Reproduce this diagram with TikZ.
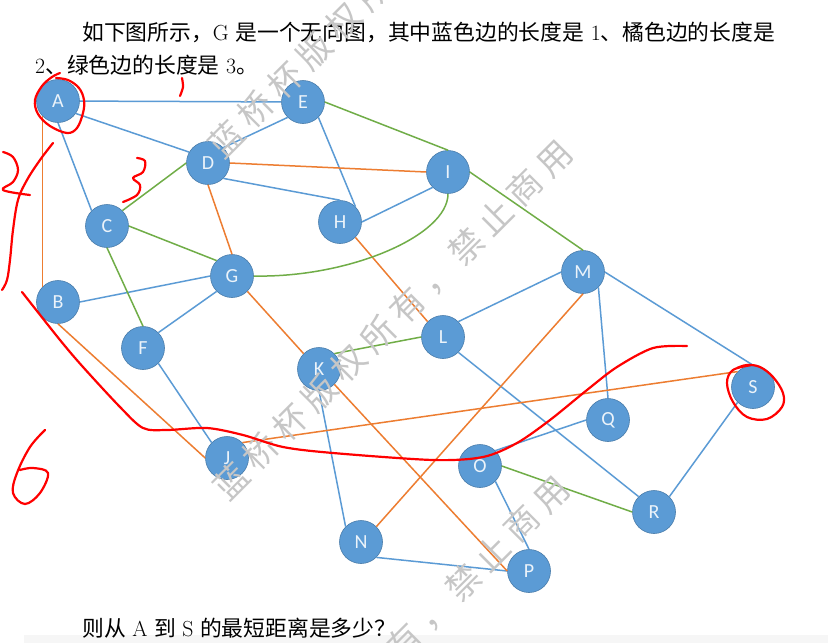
\documentclass[tikz,border=0pt]{standalone}
\usepackage{fontspec}
\newfontfamily\cjk{Noto Sans CJK SC}
\newfontfamily\wmfont[LetterSpace=22]{Noto Sans CJK SC}
\newfontfamily\labelfont{Carlito}
\definecolor{nodeblue}{HTML}{5B9BD5}
\definecolor{eblue}{HTML}{5B9BD5}
\definecolor{eorange}{HTML}{ED7D31}
\definecolor{egreen}{HTML}{70AD47}
\definecolor{penred}{HTML}{FF0000}

\begin{document}
\begin{tikzpicture}[x=1pt, y=-1pt,
    vertex/.style={circle, draw=nodeblue!80!black, line width=0.6pt, fill=nodeblue,
                   minimum size=43pt, inner sep=0pt, text=white!88!nodeblue,
                   font=\labelfont\fontsize{20}{20}\selectfont},
    bedge/.style={draw=eblue, line width=1.5pt},
    oedge/.style={draw=eorange, line width=1.5pt},
    gedge/.style={draw=egreen, line width=1.5pt},
    pen/.style={draw=penred, line width=2.2pt, line cap=round, line join=round},
    txt/.style={anchor=base west, inner sep=0pt, font=\fontsize{21.8}{22}\selectfont},
    wm/.style={text=gray!45, rotate=45, inner sep=0pt, font=\wmfont\fontsize{34}{34}\selectfont}
]
\useasboundingbox (0,0) rectangle (828,643);
\fill[white] (0,0) rectangle (828,643);
\fill[gray!7] (24,635) rectangle (828,643);

% Question text
\node[txt] (line1) at (82,40) {{\cjk 如下图所示，}G {\cjk 是一个无向图，其中蓝色边的长度是} 1{\cjk 、橘色边的长度是}};
\node[txt] (line2) at (35,73) {2{\cjk 、绿色边的长度是} 3{\cjk 。}};
\node[txt] (line3) at (82,636) {{\cjk 则从} A {\cjk 到} S {\cjk 的最短距离是多少？}};

% Vertices
\node[vertex] (A) at (58,101) {A};
\node[vertex] (E) at (303,102) {E};
\node[vertex] (D) at (208,163) {D};
\node[vertex] (I) at (448,172) {I};
\node[vertex] (C) at (107,226) {C};
\node[vertex] (H) at (340,222) {H};
\node[vertex] (G) at (232,276) {G};
\node[vertex] (M) at (583,272) {M};
\node[vertex] (B) at (58,302) {B};
\node[vertex] (F) at (143,348) {F};
\node[vertex] (L) at (443,337) {L};
\node[vertex] (K) at (319,369) {K};
\node[vertex] (S) at (753,387) {S};
\node[vertex] (Q) at (608,420) {Q};
\node[vertex] (J) at (227,458) {J};
\node[vertex] (O) at (480,466) {O};
\node[vertex] (R) at (654,512) {R};
\node[vertex] (N) at (361,542) {N};
\node[vertex] (P) at (529,571) {P};

% Blue edges (length 1)
\draw[bedge] (A) -- (E);
\draw[bedge] (A.-35) -- (D.150);
\draw[bedge] (A.south) -- (C.north west);
\draw[bedge] (E.south west) -- (D.north east);
\draw[bedge] (E.south east) -- (H.north east);
\draw[bedge] (D.south east) -- (H.north);
\draw[bedge] (H.east) -- (I.south west);
\draw[bedge] (B.east) -- (G.west);
\draw[bedge] (G.south west) -- (F.north east);
\draw[bedge] (F.south east) -- (J.north west);
\draw[bedge] (L.north east) -- (M.west);
\draw[bedge] (L.south east) -- (R.north west);
\draw[bedge] (M.south east) -- (Q.north);
\draw[bedge] (M.east) -- (S.north);
\draw[bedge] (K.south) -- (N.north west);
\draw[bedge] (N.south east) -- (P.west);
\draw[bedge] (O.north east) -- (Q.west);
\draw[bedge] (O.south east) -- (P.north);
\draw[bedge] (R.north east) -- (S.south west);

% Orange edges (length 2)
\draw[oedge] (A.south west) -- (B.north west);
\draw[oedge] (D.east) -- (I.west);
\draw[oedge] (D.south) -- (G.north);
\draw[oedge] (G.south east) -- (K.north west);
\draw[oedge] (H.south east) -- (L.north west);
\draw[oedge] (B.south) -- (J.west);
\draw[oedge] (J.north east) -- (S.north west);
\draw[oedge] (M.south) -- (N.north east);
\draw[oedge] (K.south east) -- (P.west);

% Green edges (length 3)
\draw[gedge] (E.east) -- (I.north);
\draw[gedge] (I.east) -- (M.north);
\draw[gedge] (D.west) -- (C.north east);
\draw[gedge] (C.east) -- (G.north west);
\draw[gedge] (C.south) -- (F.north);
\draw[gedge] (K.north east) -- (L.west);
\draw[gedge] (O.east) -- (R.west);
\draw[gedge] (I.south) .. controls +(0,42) and +(95,2) .. (G.east);

% Watermark
\begin{scope}
\clip (0,0) rectangle (828,643);
\node[wm] (wm1) at (388,-22) {蓝桥杯版权所有，禁止商用};
\node[wm] (wm2) at (393,320) {蓝桥杯版权所有，禁止商用};
\node[wm] (wm3) at (390,656) {蓝桥杯版权所有，禁止商用};
\end{scope}

% Handwritten marks
\draw[pen] plot[smooth, tension=0.6] coordinates {(60,73) (52,77) (42,86) (35,100) (38,114) (50,126) (67,133) (77,128) (83,113) (84,100) (79,88) (68,80) (56,78)};
\draw[pen] plot[smooth] coordinates {(182,78) (183,87) (180,96)};
\draw[pen] plot[smooth, tension=0.6] coordinates {(3,152) (13,157) (18,170) (13,182) (3,190) (30,195)};
\draw[pen] plot[smooth, tension=0.6] coordinates {(53,143) (40,160) (27,180) (18,200) (13,230) (10,260) (7,280) (2,290)};
\draw[pen] plot[smooth, tension=0.6] coordinates {(137,158) (145,161) (143,172) (133,178) (140,185) (137,195) (123,202)};
\draw[pen] plot[smooth, tension=0.5] coordinates {(22,292) (60,340) (83,367) (120,407) (143,428) (167,430) (207,428) (243,435) (283,447) (333,453) (433,460) (483,457) (517,443) (550,420) (587,390) (617,367) (653,348) (687,346)};
\draw[pen] plot[smooth, tension=0.6] coordinates {(45,430) (30,447) (17,473) (13,493) (25,504) (40,493) (48,473) (33,468) (20,470)};
\draw[pen] plot[smooth, tension=0.6] coordinates {(752,365) (733,370) (727,383) (733,402) (747,417) (767,419) (782,407) (783,393) (773,377) (760,367) (747,365) (737,368)};

\end{tikzpicture}
\end{document}
